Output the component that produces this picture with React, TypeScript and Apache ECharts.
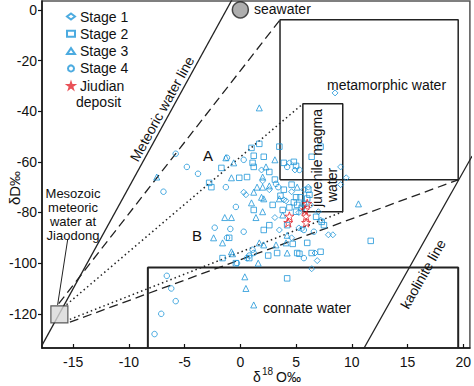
import React, { useEffect, useRef } from "react";
import * as echarts from "echarts";

// ---------- data (δ18O ‰, δD ‰) ----------
const stage1: [number, number][] = [
  [8.5, -32.8], [7.9, -88.8], [8.3, -88.8], [6.4, -102.2], [6.9, -99], [5.25, -86.1], [5.5, -86.5],
  [9.0, -62], [9.5, -66.3], [9.0, -69], [6.7, -96], [4.1, -75.4], [4.9, -63.2], [4.4, -60.4],
  [1.9, -63.2], [0.3, -72], [0.5, -73], [5.25, -80], [6.1, -70], [7.0, -79.7], [7.2, -83],
  [3.9, -75], [2.6, -71], [2.0, -67.5], [3.5, -86.9], [4.6, -90], [5.7, -71], [6.3, -77],
  [4.6, -71.8], [3.1, -82],
];
const stage2: [number, number][] = [
  [1.0, -54.5], [1.7, -52.9], [3.5, -54], [1.2, -57.6], [2.1, -58], [1.1, -60.4], [1.2, -62],
  [2.6, -64], [3.9, -60.4], [4.8, -60], [5.0, -61.6], [6.4, -58], [7.2, -54], [-0.1, -66.3],
  [0.6, -66], [3.9, -71], [4.6, -69], [2.9, -77], [1.2, -79], [4.4, -78], [5.0, -74], [5.4, -74],
  [4.8, -76], [5.1, -77], [5.7, -76.6], [6.1, -71], [6.2, -73], [6.0, -74.5], [6.8, -81.7],
  [7.3, -83.7], [7.5, -85], [11.7, -91.2], [6.0, -92], [7.2, -95.5], [-1.0, -90], [2.6, -85],
  [4.7, -92.4], [3.3, -96], [2.5, -97], [5.1, -96], [5.3, -96.3], [6.4, -96], [4.2, -106],
  [-1.6, -98], [-0.4, -100], [0.8, -98], [-2.8, -68.3], [-2.6, -70], [-1.7, -62.4], [3.1, -67],
  [3.6, -73.4], [3.8, -79], [5.0, -79.7], [5.5, -78.2], [4.2, -85], [2.1, -86.9],
];
const stage3: [number, number][] = [
  [1.7, -38.7], [-7.5, -66], [-1.3, -58.4], [-0.6, -60.4], [2.3, -62], [2.0, -66], [-0.8, -66.3],
  [1.5, -70], [2.0, -70], [2.6, -69.5], [1.2, -72], [1.9, -74], [2.1, -74.6], [2.0, -79.7],
  [-0.8, -82], [1.4, -82], [4.2, -89], [-1.4, -82], [-2.4, -90], [-1.6, -92], [-0.8, -95.5],
  [-0.7, -96.3], [1.7, -92], [2.1, -92.8], [3.2, -92.8], [4.1, -92], [4.2, -96], [1.6, -100],
  [0.4, -105.4], [0.5, -110], [1.2, -116.5], [10.6, -76.6], [3.1, -59.2], [3.8, -81],
  [3.5, -74.6], [5.1, -70], [1.0, -76.2],
];
const stage4: [number, number][] = [
  [-5.8, -56.8], [-4.8, -62], [-3.8, -64.7], [-6.9, -71.8], [-1.3, -70], [-1.2, -58.4], [0.3, -59.2],
  [-0.4, -77.8], [-2.3, -86], [-0.9, -86.5], [-1.2, -90], [0.6, -98], [0.8, -97],
  [1.1, -94.7], [1.2, -96], [-0.3, -100], [-6.6, -105], [-6.2, -110], [-5.8, -115], [-7.1, -120],
  [-7.7, -128], [3.2, -68.7], [3.4, -70], [4.2, -62], [6.6, -87.6], [5.7, -98], [0.3, -87.6],
  [5.7, -86.9], [5.3, -63.2],
];
const jiudian: [number, number][] = [
  [6.0, -76.5], [5.8, -79], [5.9, -81.5], [5.9, -84], [4.4, -81.5], [4.3, -84],
];
const seawater: [number, number][] = [[0, 0]];
const mesozoicWater: [number, number][] = [[-16.24, -120.2]];

// reference lines / fields
const meteoricLine: [number, number][] = [[-18, -134], [-0.75, 4]];
const kaoliniteLine: [number, number][] = [[11.04, -134], [20.8, -57.7]];
const dashUpper: [number, number][] = [[-16.3, -116], [3.56, -3.95]];
const dashLower: [number, number][] = [[-15.3, -123.3], [19.55, -67.1]];
const dotUpper: [number, number][] = [[-15.6, -116.4], [5.61, -37.1]];
const dotLower: [number, number][] = [[-15.3, -122.2], [9.19, -79.7]];
const leader: [number, number][] = [[-15.5, -90.8], [-16.4, -116.5]];
const metamorphicBox: [number, number][] = [[3.56, -67.1], [3.56, -3.95], [19.55, -3.95], [19.55, -67.1], [3.56, -67.1]];
const juvenileBox: [number, number][] = [[5.61, -79.7], [5.61, -37.1], [9.19, -37.1], [9.19, -79.7], [5.61, -79.7]];
const connateBox: [number, number][] = [[-8.3, -133.5], [-8.3, -101.7], [19.55, -101.7], [19.55, -133.5]];

const xTicks = [-15, -10, -5, 0, 5, 10, 15, 20];
const yTicks = [-120, -100, -80, -60, -40, -20, 0];

const FONT = '"Liberation Sans", Arial, Helvetica, sans-serif';
const BLUE = "#1f96d8";
const RED = "#e3262d";
const STAR = "path://M50,2 L61,36 L97,36 L68,57 L79,92 L50,70 L21,92 L32,57 L3,36 L39,36 Z";

function lineSeries(data: [number, number][], type: any, width = 1.3) {
  return {
    type: "line",
    data,
    symbol: "none",
    silent: true,
    z: 2,
    clip: true,
    lineStyle: { color: "#222", width, type },
  };
}

function openScatter(name: string, data: [number, number][], symbol: string, size: number, color: string) {
  return {
    name,
    type: "scatter",
    data,
    symbol,
    symbolSize: size,
    z: 4,
    itemStyle: { color: "rgba(255,255,255,0)", borderColor: color, borderWidth: 1 },
  };
}

export default function App() {
  const ref = useRef<HTMLDivElement>(null);
  useEffect(() => {
    if (!ref.current) return;
    const chart = echarts.init(ref.current, undefined, { renderer: "svg" });
    const txt = (text: string, x: number, y: number, extra: any = {}, rotation = 0) => ({
      type: "text",
      x,
      y,
      rotation,
      z: 10,
      style: {
        text,
        fontFamily: FONT,
        fontSize: 14,
        fill: "#111",
        align: "left",
        verticalAlign: "middle",
        ...extra,
      },
    });
    chart.setOption({
      animation: false,
      backgroundColor: "#fff",
      textStyle: { fontFamily: FONT },
      grid: { left: 42, right: 2, top: 1, bottom: 38, show: true, borderColor: "#555", borderWidth: 1.5 },
      xAxis: {
        type: "value",
        min: -17.8,
        max: 20.6,
        axisLine: { show: true, onZero: false, lineStyle: { color: "#111", width: 1.5 } },
        axisTick: { show: true, inside: true, length: 4, customValues: xTicks, lineStyle: { color: "#111", width: 1.2 } },
        axisLabel: { customValues: xTicks, fontSize: 14, color: "#111", margin: 7, fontFamily: FONT },
        splitLine: { show: false },
      },
      yAxis: {
        type: "value",
        min: -133.5,
        max: 3.5,
        axisLine: { show: true, onZero: false, lineStyle: { color: "#111", width: 1.5 } },
        axisTick: { show: true, inside: false, length: 4, customValues: yTicks, lineStyle: { color: "#111", width: 1.2 } },
        axisLabel: { customValues: yTicks, fontSize: 14, color: "#111", margin: 5, fontFamily: FONT },
        splitLine: { show: false },
      },
      legend: {
        orient: "vertical",
        left: 61,
        top: 4,
        itemWidth: 8,
        itemHeight: 6,
        itemGap: 2.3,
        data: ["Stage 1", "Stage 2", "Stage 3", "Stage 4", "Jiudian deposit"],
        formatter: (n: string) => (n === "Jiudian deposit" ? "Jiudian" : n),
        textStyle: { fontSize: 14, color: "#111", fontFamily: FONT, lineHeight: 15 },
      },
      series: [
        lineSeries(meteoricLine, "solid", 1.3),
        lineSeries(kaoliniteLine, "solid", 1.3),
        lineSeries(dashUpper, [9, 5], 1.3),
        lineSeries(dashLower, [9, 5], 1.3),
        lineSeries(dotUpper, [1.5, 3], 1.5),
        lineSeries(dotLower, [1.5, 3], 1.5),
        lineSeries(leader, "solid", 1),
        lineSeries(metamorphicBox, "solid", 1.5),
        lineSeries(juvenileBox, "solid", 1.5),
        lineSeries(connateBox, "solid", 2),
        {
          type: "scatter",
          data: seawater,
          symbol: "circle",
          symbolSize: 16,
          z: 5,
          silent: true,
          itemStyle: { color: "#9a9a9a", borderColor: "#222", borderWidth: 1.5 },
        },
        {
          type: "scatter",
          data: mesozoicWater,
          symbol: "rect",
          symbolSize: 17,
          z: 5,
          silent: true,
          itemStyle: { color: "#d8d8d8", borderColor: "#333", borderWidth: 1.2 },
        },
        openScatter("Stage 1", stage1, "diamond", 6, BLUE),
        openScatter("Stage 2", stage2, "rect", 5.5, BLUE),
        openScatter("Stage 3", stage3, "triangle", 6, BLUE),
        openScatter("Stage 4", stage4, "circle", 5.5, BLUE),
        openScatter("Jiudian deposit", jiudian, STAR, 9, RED),
      ],
      graphic: [
        txt("deposit", 76, 102),
        txt("seawater", 254, 9),
        txt("metamorphic water", 327, 85),
        txt("connate water", 263, 308),
        txt("A", 208, 155, { align: "center", fontSize: 15 }),
        txt("B", 197, 235, { align: "center", fontSize: 15 }),
        txt("juvenile magma", 317, 158, { align: "center" }, Math.PI / 2),
        txt("water", 332, 185, { align: "center" }, Math.PI / 2),
        txt("Meteoric water line", 162, 109, { align: "center" }, 1.067),
        txt("kaolinite line", 423, 274, { align: "center" }, 1.056),
        txt("Mesozoic\nmeteoric\nwater at\nJiaodong", 73, 214.5, { align: "center", fontSize: 13, lineHeight: 13.7 }),
        txt("δ", 253, 377, { fontSize: 14 }),
        txt("18", 262, 371, { fontSize: 10 }),
        txt("O‰", 276, 377, { fontSize: 14 }),
        txt("δD‰", 14, 188, { align: "center", fontSize: 15 }, Math.PI / 2),
      ],
    });
    return () => chart.dispose();
  }, []);
  return (
    <div
      ref={ref}
      style={{ position: "fixed", left: 0, top: 0, width: 474, height: 386, background: "#fff" }}
    />
  );
}
